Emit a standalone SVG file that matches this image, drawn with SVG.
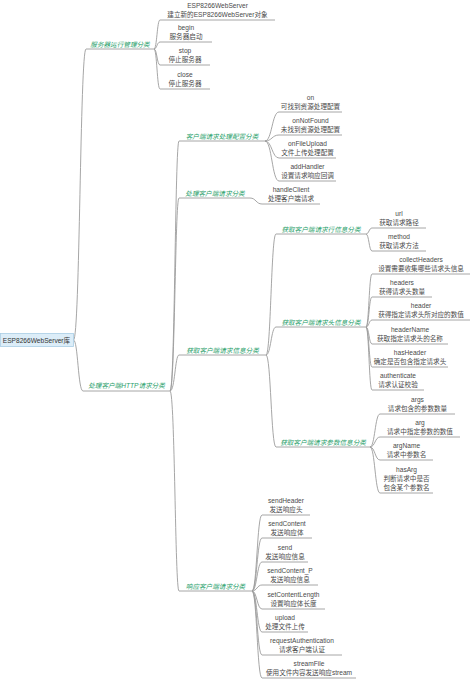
<svg xmlns="http://www.w3.org/2000/svg" width="474" height="681" viewBox="0 0 474 681">
<style>
.bg{fill:#ffffff}
.c{fill:none;stroke:#9c9c9c;stroke-width:0.9}
.u{stroke:#9c9c9c;stroke-width:0.9}
.t{font-family:"Liberation Sans","Noto Sans CJK SC",sans-serif;font-size:6.6px;fill:#4a4a4a;text-anchor:middle}
.g{font-family:"Liberation Sans","Noto Sans CJK SC",sans-serif;font-size:6.6px;fill:#27a06a;font-style:italic;text-anchor:middle}
.r{fill:#dcedf8;stroke:#a9cde4;stroke-width:0.8}
</style>
<rect class="bg" x="0" y="0" width="474" height="681"/>
<g id="connectors">
<path class="c" d="M73.5 340 C80 340 80 49 86 49"/>
<path class="c" d="M73.5 340 C78 340 78 391 83 391"/>
<path class="c" d="M154 49 C157 49 157 20 160 20"/>
<path class="c" d="M154 49 C157 49 157 42 160 42"/>
<path class="c" d="M154 49 C157 49 157 65 160 65"/>
<path class="c" d="M154 49 C157 49 157 89 160 89"/>
<path class="c" d="M170 391 C175 391 175 141 179 141"/>
<path class="c" d="M170 391 C175 391 175 198 179 198"/>
<path class="c" d="M170 391 C175 391 175 355 179 355"/>
<path class="c" d="M170 391 C175 391 175 591 179 591"/>
<path class="c" d="M265 141 C272 141 272 112 279 112"/>
<path class="c" d="M265 141 C272 141 272 135 279 135"/>
<path class="c" d="M265 141 C272 141 272 158 279 158"/>
<path class="c" d="M265 141 C272 141 272 181 279 181"/>
<path class="c" d="M250 198 C256 198 256 204 262 204"/>
<path class="c" d="M266 355 C271 355 271 234 276 234"/>
<path class="c" d="M266 355 C271 355 271 327 276 327"/>
<path class="c" d="M266 355 C271 355 271 447 276 447"/>
<path class="c" d="M366 234 C369 234 369 228 372 228"/>
<path class="c" d="M366 234 C369 234 369 251 372 251"/>
<path class="c" d="M366 327 C369 327 369 274 372 274"/>
<path class="c" d="M366 327 C369 327 369 297 372 297"/>
<path class="c" d="M366 327 C369 327 369 320 372 320"/>
<path class="c" d="M366 327 C369 327 369 344 372 344"/>
<path class="c" d="M366 327 C369 327 369 367 372 367"/>
<path class="c" d="M366 327 C369 327 369 390 372 390"/>
<path class="c" d="M370 447 C375 447 375 414 380 414"/>
<path class="c" d="M370 447 C375 447 375 437 380 437"/>
<path class="c" d="M370 447 C375 447 375 460 380 460"/>
<path class="c" d="M370 447 C375 447 375 493 380 493"/>
<path class="c" d="M252 591 C257 591 257 515 262 515"/>
<path class="c" d="M252 591 C257 591 257 538 262 538"/>
<path class="c" d="M252 591 C257 591 257 562 262 562"/>
<path class="c" d="M252 591 C257 591 257 585 262 585"/>
<path class="c" d="M252 591 C257 591 257 609 262 609"/>
<path class="c" d="M252 591 C257 591 257 632 262 632"/>
<path class="c" d="M252 591 C257 591 257 655 262 655"/>
<path class="c" d="M252 591 C257 591 257 678 262 678"/>
</g>
<g id="root"><rect class="r" x="0.5" y="333.5" width="73" height="13"/><text class="t" x="36.5" y="342.5" style="fill:#333">ESP8266WebServer库</text></g>
<g id="catA"><line class="u" x1="86" y1="49" x2="154" y2="49"/><text class="g" x="120" y="46.5">服务器运行管理分类</text></g>
<g id="a1"><line class="u" x1="160" y1="20" x2="275" y2="20"/><text class="t" x="217.5" y="7.5">ESP8266WebServer</text><text class="t" x="217.5" y="17">建立新的ESP8266WebServer对象</text></g>
<g id="a2"><line class="u" x1="160" y1="42" x2="212" y2="42"/><text class="t" x="186" y="29.5">begin</text><text class="t" x="186" y="39">服务器启动</text></g>
<g id="a3"><line class="u" x1="160" y1="65" x2="210" y2="65"/><text class="t" x="185" y="52.5">stop</text><text class="t" x="185" y="62">停止服务器</text></g>
<g id="a4"><line class="u" x1="160" y1="89" x2="210" y2="89"/><text class="t" x="185" y="76.5">close</text><text class="t" x="185" y="86">停止服务器</text></g>
<g id="catB"><line class="u" x1="83" y1="391" x2="170" y2="391"/><text class="g" x="126.5" y="388">处理客户端HTTP请求分类</text></g>
<g id="b1"><line class="u" x1="179" y1="141" x2="265" y2="141"/><text class="g" x="222" y="138.5">客户端请求处理配置分类</text></g>
<g id="b1a"><line class="u" x1="279" y1="112" x2="342" y2="112"/><text class="t" x="310.5" y="99.5">on</text><text class="t" x="310.5" y="109">可找到资源处理配置</text></g>
<g id="b1b"><line class="u" x1="279" y1="135" x2="342" y2="135"/><text class="t" x="310.5" y="122.5">onNotFound</text><text class="t" x="310.5" y="132">未找到资源处理配置</text></g>
<g id="b1c"><line class="u" x1="279" y1="158" x2="336" y2="158"/><text class="t" x="307.5" y="145.5">onFileUpload</text><text class="t" x="307.5" y="155">文件上传处理配置</text></g>
<g id="b1d"><line class="u" x1="279" y1="181" x2="336" y2="181"/><text class="t" x="307.5" y="168.5">addHandler</text><text class="t" x="307.5" y="178">设置请求响应回调</text></g>
<g id="b2"><line class="u" x1="179" y1="198" x2="250" y2="198"/><text class="g" x="215" y="195.5">处理客户端请求分类</text></g>
<g id="b2a"><line class="u" x1="262" y1="204" x2="320" y2="204"/><text class="t" x="291" y="192">handleClient</text><text class="t" x="291" y="201">处理客户端请求</text></g>
<g id="b3"><line class="u" x1="179" y1="355" x2="266" y2="355"/><text class="g" x="222.5" y="352.5">获取客户端请求信息分类</text></g>
<g id="b3a"><line class="u" x1="276" y1="234" x2="366" y2="234"/><text class="g" x="321" y="231.5">获取客户端请求行信息分类</text></g>
<g id="b3a1"><line class="u" x1="372" y1="228" x2="426" y2="228"/><text class="t" x="399" y="215.5">url</text><text class="t" x="399" y="225">获取请求路径</text></g>
<g id="b3a2"><line class="u" x1="372" y1="251" x2="426" y2="251"/><text class="t" x="399" y="238.5">method</text><text class="t" x="399" y="248">获取请求方法</text></g>
<g id="b3b"><line class="u" x1="276" y1="327" x2="366" y2="327"/><text class="g" x="321" y="324.5">获取客户端请求头信息分类</text></g>
<g id="b3b1"><line class="u" x1="372" y1="274" x2="470" y2="274"/><text class="t" x="421" y="261.5">collectHeaders</text><text class="t" x="421" y="271">设置需要收集哪些请求头信息</text></g>
<g id="b3b2"><line class="u" x1="372" y1="297" x2="432" y2="297"/><text class="t" x="402" y="284.5">headers</text><text class="t" x="402" y="294">获得请求头数量</text></g>
<g id="b3b3"><line class="u" x1="372" y1="320" x2="470" y2="320"/><text class="t" x="421" y="307.5">header</text><text class="t" x="421" y="317">获得指定请求头所对应的数值</text></g>
<g id="b3b4"><line class="u" x1="372" y1="344" x2="448" y2="344"/><text class="t" x="410" y="331.5">headerName</text><text class="t" x="410" y="341">获取指定请求头的名称</text></g>
<g id="b3b5"><line class="u" x1="372" y1="367" x2="448" y2="367"/><text class="t" x="410" y="354.5">hasHeader</text><text class="t" x="410" y="364">确定是否包含指定请求头</text></g>
<g id="b3b6"><line class="u" x1="372" y1="390" x2="424" y2="390"/><text class="t" x="398" y="377.5">authenticate</text><text class="t" x="398" y="387">请求认证校验</text></g>
<g id="b3c"><line class="u" x1="276" y1="447" x2="370" y2="447"/><text class="g" x="323" y="444.5">获取客户端请求参数信息分类</text></g>
<g id="b3c1"><line class="u" x1="380" y1="414" x2="455" y2="414"/><text class="t" x="417.5" y="401.5">args</text><text class="t" x="417.5" y="411">请求包含的参数数量</text></g>
<g id="b3c2"><line class="u" x1="380" y1="437" x2="460" y2="437"/><text class="t" x="420" y="424.5">arg</text><text class="t" x="420" y="434">请求中指定参数的数值</text></g>
<g id="b3c3"><line class="u" x1="380" y1="460" x2="433" y2="460"/><text class="t" x="406.5" y="447.5">argName</text><text class="t" x="406.5" y="457">请求中参数名</text></g>
<g id="b3c4"><line class="u" x1="380" y1="493" x2="433" y2="493"/><text class="t" x="406.5" y="471.5">hasArg</text><text class="t" x="406.5" y="480.5">判断请求中是否</text><text class="t" x="406.5" y="489.5">包含某个参数名</text></g>
<g id="b4"><line class="u" x1="179" y1="591" x2="252" y2="591"/><text class="g" x="215.5" y="588.5">响应客户端请求分类</text></g>
<g id="b4a"><line class="u" x1="262" y1="515" x2="310" y2="515"/><text class="t" x="286" y="502.5">sendHeader</text><text class="t" x="286" y="512">发送响应头</text></g>
<g id="b4b"><line class="u" x1="262" y1="538" x2="312" y2="538"/><text class="t" x="287" y="525.5">sendContent</text><text class="t" x="287" y="535">发送响应体</text></g>
<g id="b4c"><line class="u" x1="262" y1="562" x2="308" y2="562"/><text class="t" x="285" y="549.5">send</text><text class="t" x="285" y="559">发送响应信息</text></g>
<g id="b4d"><line class="u" x1="262" y1="585" x2="318" y2="585"/><text class="t" x="290" y="572.5">sendContent_P</text><text class="t" x="290" y="582">发送响应信息</text></g>
<g id="b4e"><line class="u" x1="262" y1="609" x2="325" y2="609"/><text class="t" x="293.5" y="596.5">setContentLength</text><text class="t" x="293.5" y="606">设置响应体长度</text></g>
<g id="b4f"><line class="u" x1="262" y1="632" x2="308" y2="632"/><text class="t" x="285" y="619.5">upload</text><text class="t" x="285" y="629">处理文件上传</text></g>
<g id="b4g"><line class="u" x1="262" y1="655" x2="342" y2="655"/><text class="t" x="302" y="642.5">requestAuthentication</text><text class="t" x="302" y="652">请求客户端认证</text></g>
<g id="b4h"><line class="u" x1="262" y1="678" x2="356" y2="678"/><text class="t" x="309" y="665.5">streamFile</text><text class="t" x="309" y="675">使用文件内容发送响应stream</text></g>
</svg>
